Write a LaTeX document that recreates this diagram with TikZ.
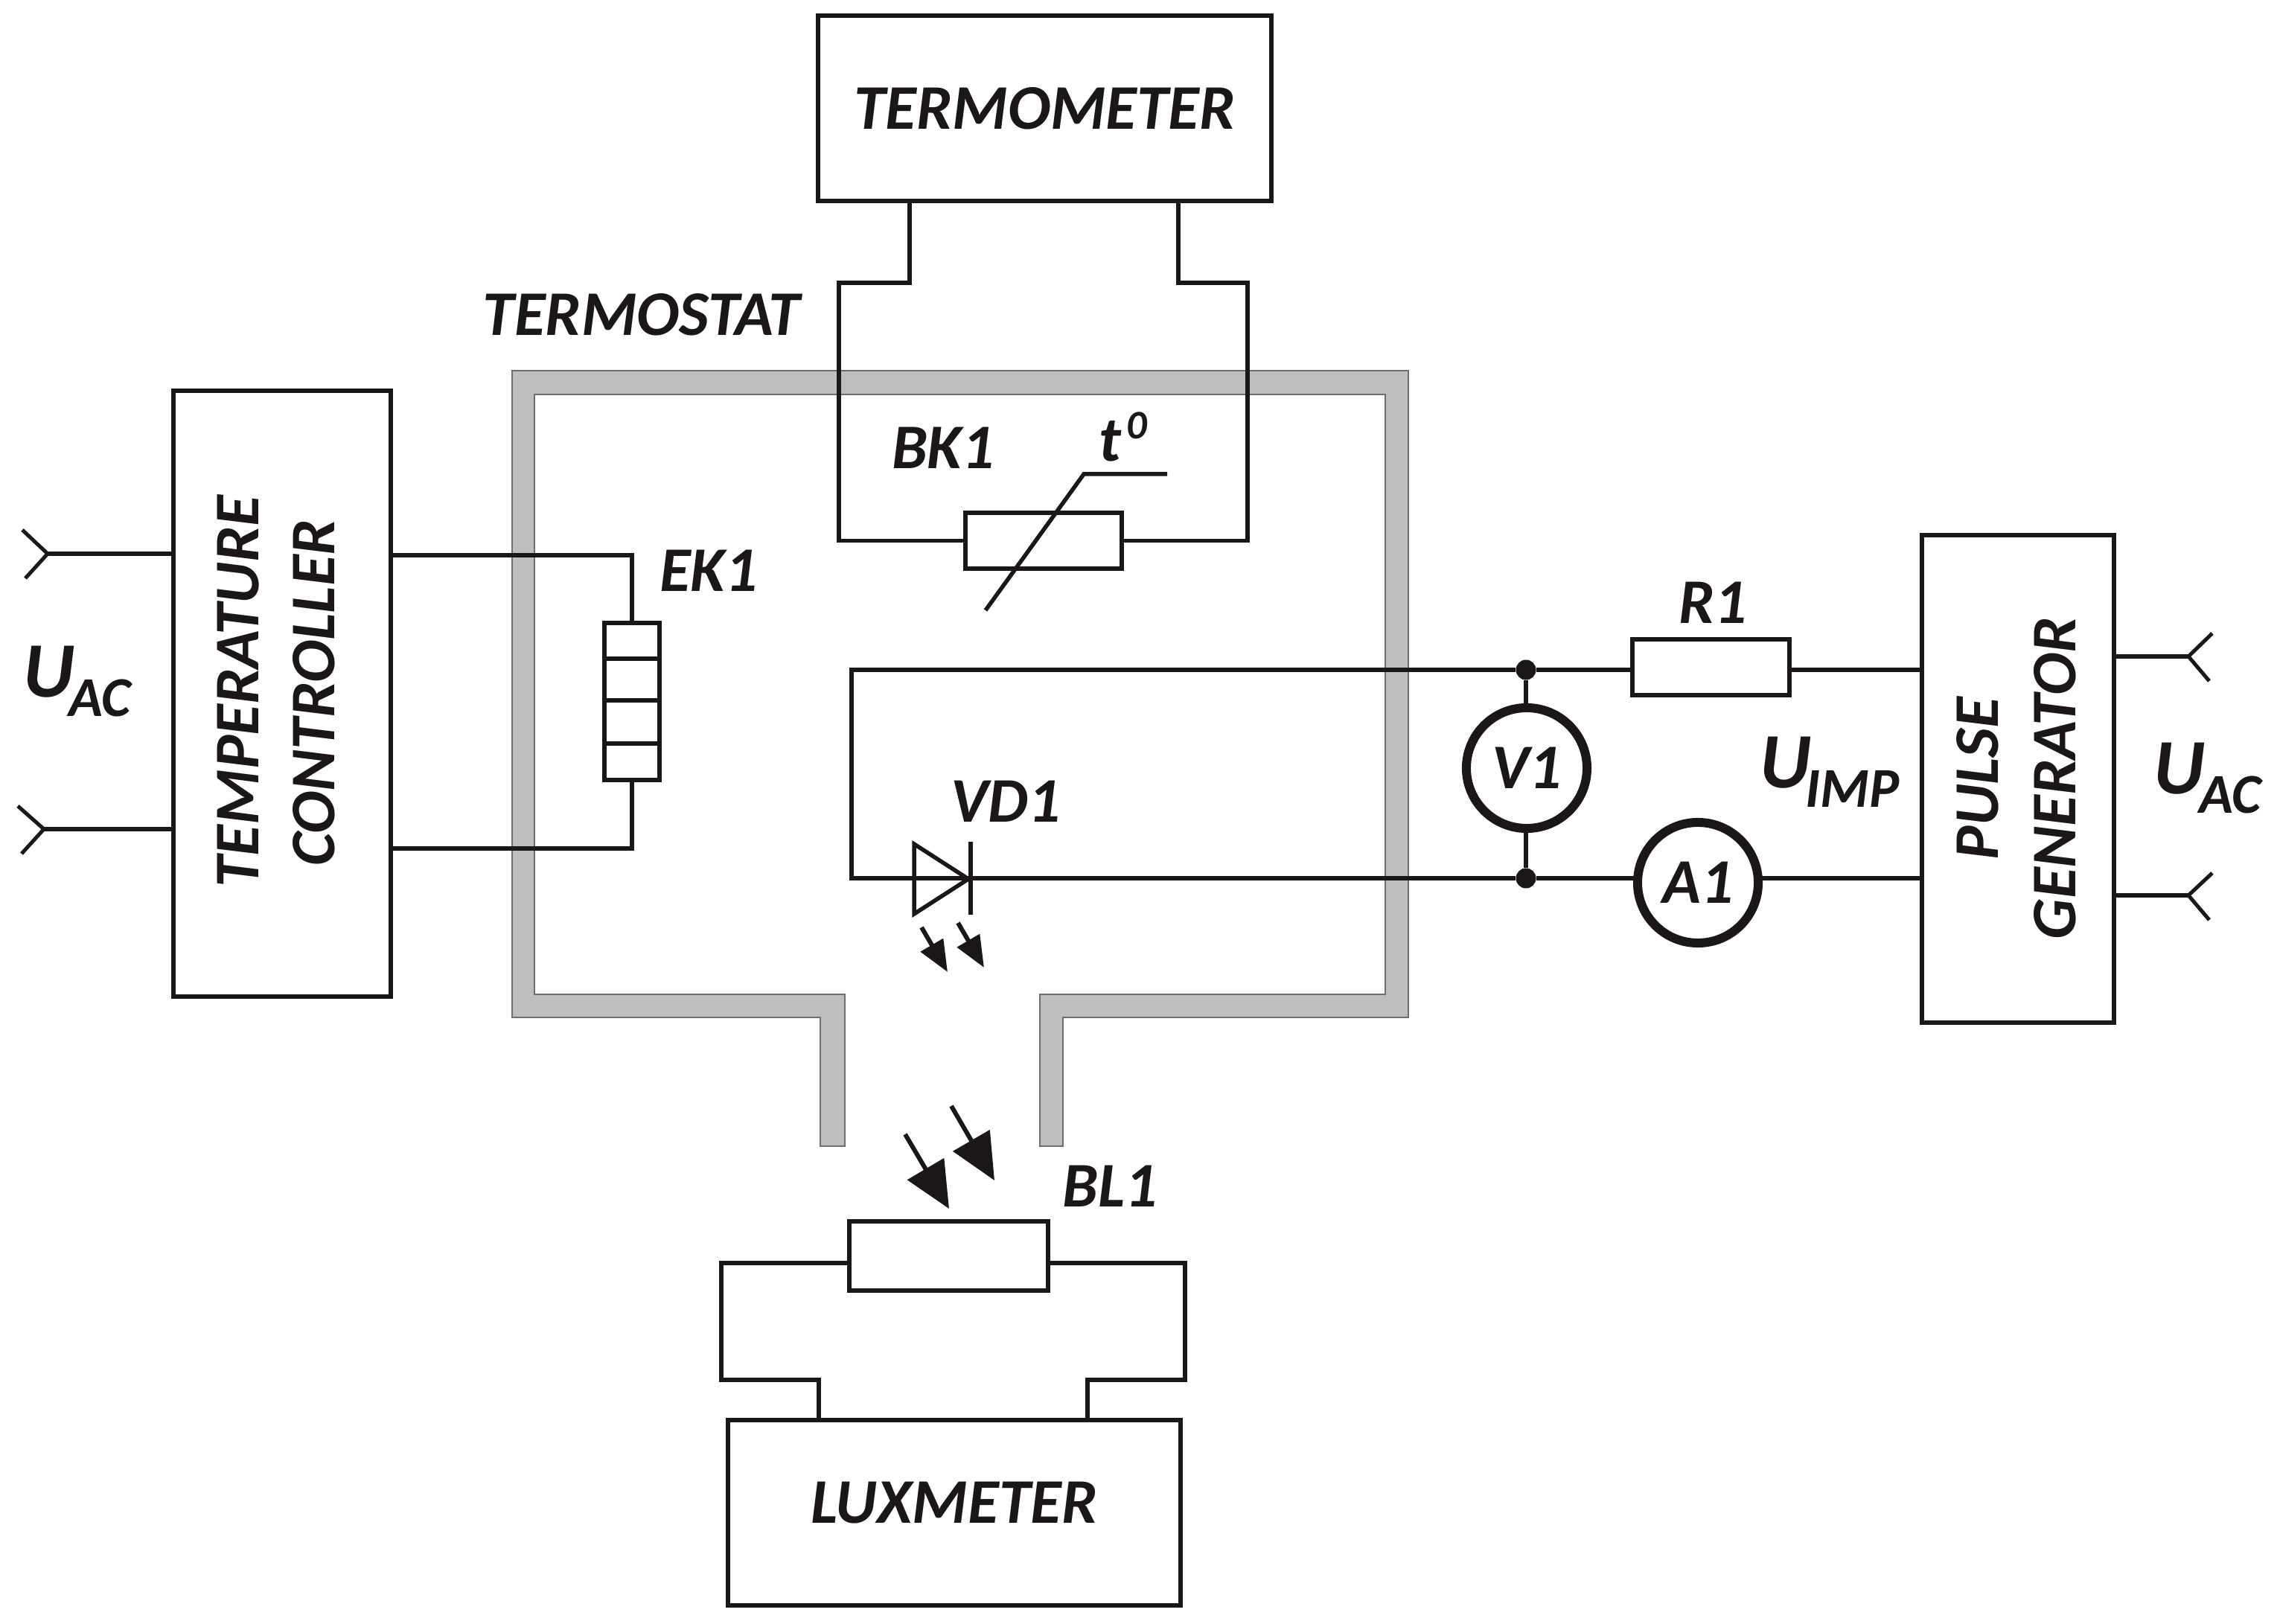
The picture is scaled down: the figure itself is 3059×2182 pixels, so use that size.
\documentclass[tikz,border=0pt]{standalone}
\usepackage{fontspec}
\setmainfont{Carlito}
\usetikzlibrary{arrows.meta,calc}
\definecolor{ink}{HTML}{1A1716}
\definecolor{wallgray}{HTML}{BEBEBE}
\definecolor{wallline}{HTML}{6E6E6E}
\newcommand{\usub}[1]{U\kern-2.4pt\raisebox{-7.4pt}{\fontsize{21.5}{22}\selectfont #1}}
\begin{document}
\begin{tikzpicture}[x=0.01cm,y=-0.01cm,
  wire/.style={draw=ink,line width=0.055cm,line join=miter},
  box/.style={rectangle,draw=ink,line width=0.06cm,inner sep=0pt,outer sep=0pt},
  lbl/.style={font=\fontsize{24.3}{26}\selectfont\bfseries\itshape,text=ink,inner sep=0pt},
  bigu/.style={font=\fontsize{30}{31}\selectfont\bfseries\itshape,text=ink,inner sep=0pt,anchor=base west},
  meter/.style={circle,draw=ink,line width=0.12cm,inner sep=0pt,outer sep=0pt,minimum size=1.62cm,lbl},
  dot/.style={circle,fill=ink,inner sep=0pt,minimum size=0.27cm},
  small ray/.style={draw=ink,line width=0.06cm,-{Triangle[length=0.42cm,width=0.34cm]}},
  big ray/.style={draw=ink,line width=0.06cm,-{Triangle[length=0.62cm,width=0.56cm]}},
  fork/.style={draw=ink,line width=0.05cm}]
\useasboundingbox (0,0) rectangle (3059,2182);

% thermostat wall
\draw[fill=wallgray,draw=wallline,line width=0.025cm]
  (1102,1540)--(1102,1367)--(688,1367)--(688,498)--(1892,498)--(1892,1367)
  --(1428,1367)--(1428,1540)--(1397,1540)--(1397,1336)--(1861,1336)--(1861,530)
  --(718,530)--(718,1336)--(1135,1336)--(1135,1540)--cycle;

% blocks
\node[box,lbl,minimum width=6.09cm,minimum height=2.49cm] (termo) at (1403.5,145.5) {TERMOMETER};
\node[box,minimum width=2.92cm,minimum height=8.14cm] (tc) at (379,932) {};
\node[box,minimum width=2.58cm,minimum height=6.55cm] (pg) at (2711,1046.5) {};
\node[box,minimum width=6.08cm,minimum height=2.49cm] (lux) at (1282,2032.5) {};

\node[lbl,rotate=90] (tctext1) at (320,929) {TEMPERATURE};
\node[lbl,rotate=90] (tctext2) at (422,931) {CONTROLLER};
\node[lbl,rotate=90] (pgtext1) at (2657,1046) {PULSE};
\node[lbl,rotate=90] (pgtext2) at (2761,1046) {GENERATOR};
\node[lbl] (luxtext) at (1282,2019) {LUXMETER};
\node[lbl] (tstat) at (862,423) {TERMOSTAT};

% components
\node[box,minimum width=2.10cm,minimum height=0.75cm] (bk) at (1402,726.5) {};
\node[box,minimum width=0.74cm,minimum height=2.11cm] (ek) at (849,942.5) {};
\node[box,minimum width=2.11cm,minimum height=0.75cm] (r1) at (2298.5,896.5) {};
\node[box,minimum width=2.67cm,minimum height=0.93cm] (bl) at (1274.5,1687.5) {};
\node[meter] (v1) at (2051,1032) {V1};
\node[meter] (a1) at (2281,1186) {A1};
\node[dot] (jt) at (2050,900) {};
\node[dot] (jb) at (2050,1180) {};

% component labels
\node[lbl] (bktext) at (1267,602) {BK1};
\node[lbl] (ektext) at (952,767) {EK1};
\node[lbl] (r1text) at (2301,810) {R1};
\node[lbl] (vdtext) at (1351,1077) {VD1};
\node[lbl] (bltext) at (1491,1594) {BL1};
\node[lbl,anchor=base west] (ttext) at (1476,620) {t\kern2pt\raisebox{8.8pt}{\fontsize{15.5}{16}\selectfont 0}};
\node[bigu] (uac1) at (31,936) {\usub{AC}};
\node[bigu] (uimp) at (2364,1058) {\usub{IMP}};
\node[bigu] (uac2) at (2893,1066) {\usub{AC}};

% thermometer loop
\coordinate (tl) at (1222,380);
\coordinate (tr) at (1583,380);
\draw[wire] (bk.west) -| (1127,380) -- (tl) -- (tl |- termo.south);
\draw[wire] (bk.east) -| (1676,380) -- (tr) -- (tr |- termo.south);

% thermistor slash
\draw[wire] (1324,820)--(1456,637)--(1568,637);

% heater
\draw[wire] (ek.north) |- (tc.east |- 0,746);
\draw[wire] (ek.south) |- (tc.east |- 0,1140);
\foreach \y in {885,941,999} \draw[wire] (ek.west |- 0,\y)--(ek.east |- 0,\y);

% left mains terminals
\coordinate (ta) at (64,744);
\coordinate (tb) at (59,1114);
\draw[wire] (ta) -- (ta -| tc.west);
\draw[wire] (tb) -- (tb -| tc.west);
\draw[fork] (30,712)--(ta)--(34,777);
\draw[fork] (24,1083)--(tb)--(29,1147);

% right mains terminals
\coordinate (tc1) at (2940,882);
\coordinate (td) at (2940,1203);
\draw[wire] (tc1) -- (tc1 -| pg.east);
\draw[wire] (td) -- (td -| pg.east);
\draw[fork] (2972,851)--(tc1)--(2968,915);
\draw[fork] (2972,1173)--(td)--(2968,1236);

% diode loop
\draw[wire] (jt) -- (1144,900) -- (1144,1180) -- (jb);
\draw[wire] (jt) -- (jt -| r1.west);
\draw[wire] (jt -| r1.east) -- (jt -| pg.west);
\draw[wire] (jb) -- (jb -| a1.west);
\draw[wire] (jb -| a1.east) -- (jb -| pg.west);
\draw[wire] (jt) -- (v1.north -| jt);
\draw[wire] (jb) -- (v1.south -| jb);

% LED
\draw[wire] (1228,1134)--(1301,1181)--(1228,1228)--cycle;
\draw[wire] (1304,1131)--(1304,1229);
\draw[small ray] (1238,1246)--(1273,1306);
\draw[small ray] (1287,1240)--(1322,1300);

% photoresistor
\coordinate (bla) at (1100,1854);
\coordinate (blb) at (1461,1854);
\draw[wire] (bl.west |- 0,1697) -| (969,1854) -- (bla) -- (bla |- lux.north);
\draw[wire] (bl.east |- 0,1697) -| (1592,1854) -- (blb) -- (blb |- lux.north);
\draw[big ray] (1216,1524)--(1275,1624);
\draw[big ray] (1278,1486)--(1336,1586);
\end{tikzpicture}
\end{document}
